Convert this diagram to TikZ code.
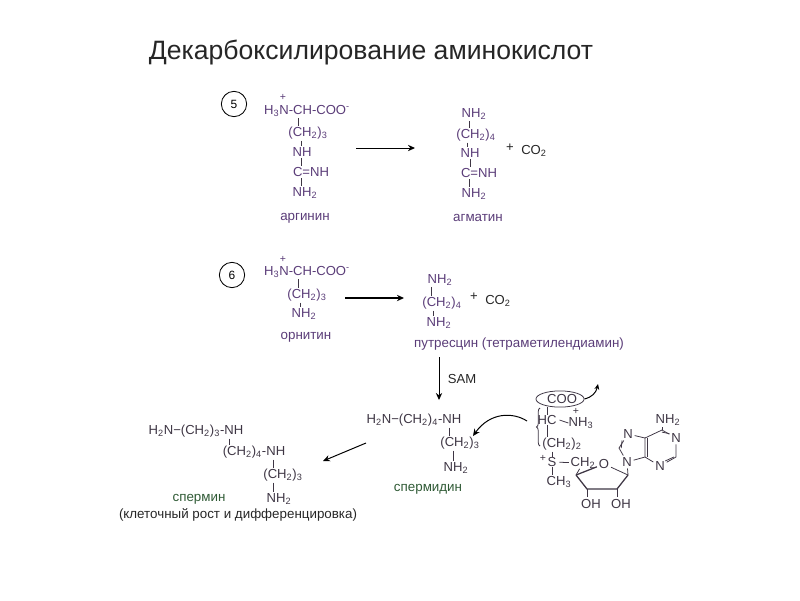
\documentclass[tikz,border=0pt]{standalone}
\usepackage{fontspec}
\setmainfont{Liberation Sans}
\usetikzlibrary{arrows.meta,shapes.geometric,decorations.pathreplacing}
\definecolor{chem}{HTML}{5A3C78}
\definecolor{chemdark}{HTML}{3E3644}
\definecolor{name}{HTML}{2F5A35}
\tikzset{
    atom/.style={inner sep=0pt,font=\fontsize{9.3}{11}\selectfont,text=chem},
    sam/.style={atom,text=chemdark},
    ring/.style={atom,text=chemdark,inner sep=1.2pt},
    plain/.style={atom,text=black!85},
    charge/.style={atom,font=\fontsize{7.5}{8}\selectfont},
    label/.style={atom,font=\fontsize{9.5}{11}\selectfont},
    numbered/.style={draw,circle,line width=0.6pt,minimum size=18pt,inner sep=0pt,font=\fontsize{8.5}{10}\selectfont},
    bond/.style={draw=chemdark,line width=0.55pt},
    react/.style={-{Stealth[length=5pt,width=4.5pt]},line width=0.7pt}
}
\newcommand{\tick}[3]{\draw[bond,shorten <=0.8pt,shorten >=0.8pt] ([xshift=#3]#1.south) -- ([xshift=#3]#1.south |- #2.north);}
\begin{document}
\begin{tikzpicture}[x=0.025cm,y=-0.025cm]
\useasboundingbox (0,0) rectangle (800,600);
\node[font=\fontsize{18.9}{22}\selectfont,text=black!85] (title) at (371,53) {Декарбоксилирование аминокислот};

% arginine -> agmatine
\node[numbered] (five) at (234,104) {5};
\node[atom] (arg1) at (307,111) {H\textsubscript{3}N-CH-COO\textsuperscript{-}};
\node[charge] (argplus) at (283,97) {+};
\node[atom] (arg2) at (308,133) {(CH\textsubscript{2})\textsubscript{3}};
\node[atom] (arg3) at (302,152) {NH};
\node[atom] (arg4) at (311,172) {C=NH};
\node[atom] (arg5) at (305,193) {NH\textsubscript{2}};
\node[label,text=chem] (argname) at (305,218) {аргинин};
\tick{arg1}{arg2}{-6pt}
\tick{arg2}{arg3}{-4.5pt}
\tick{arg3}{arg4}{-0.5pt}
\tick{arg4}{arg5}{-7pt}
\coordinate (argout) at (356,148);
\coordinate (agmin) at (415,148);
\draw[react] (argout) -- (agmin);
\node[atom] (agm1) at (474,114) {NH\textsubscript{2}};
\node[atom] (agm2) at (476,135) {(CH\textsubscript{2})\textsubscript{4}};
\node[atom] (agm3) at (470,153) {NH};
\node[atom] (agm4) at (479,173) {C=NH};
\node[atom] (agm5) at (474,194) {NH\textsubscript{2}};
\node[label,text=chem] (agmname) at (478,218) {агматин};
\node[plain] (agmplus) at (510,148) {+};
\node[plain] (agmco) at (534,151) {CO\textsubscript{2}};
\tick{agm1}{agm2}{-3pt}
\tick{agm2}{agm3}{-6pt}
\tick{agm3}{agm4}{0pt}
\tick{agm4}{agm5}{-7pt}

% ornithine -> putrescine
\node[numbered] (six) at (232,275) {6};
\node[atom] (orn1) at (307,272) {H\textsubscript{3}N-CH-COO\textsuperscript{-}};
\node[charge] (ornplus) at (283,259) {+};
\node[atom] (orn2) at (307,295) {(CH\textsubscript{2})\textsubscript{3}};
\node[atom] (orn3) at (304,314) {NH\textsubscript{2}};
\node[label,text=chem] (ornname) at (306,337) {орнитин};
\tick{orn1}{orn2}{-6pt}
\tick{orn2}{orn3}{-5pt}
\coordinate (ornout) at (345,298);
\coordinate (putin) at (404,298);
\draw[react,line width=1.1pt] (ornout) -- (putin);
\node[atom] (put1) at (440,280) {NH\textsubscript{2}};
\node[atom] (put2) at (442,303) {(CH\textsubscript{2})\textsubscript{4}};
\node[atom] (put3) at (439,323) {NH\textsubscript{2}};
\node[plain] (putplus) at (474,297) {+};
\node[plain] (putco) at (498,301) {CO\textsubscript{2}};
\node[label,text=chem] (putname) at (519,344) {путресцин (тетраметилендиамин)};
\tick{put1}{put2}{-6pt}
\tick{put2}{put3}{-6pt}
\coordinate (putout) at (439,357);
\coordinate (spdin) at (439,400);
\draw[react] (putout) -- (spdin);
\node[plain] (samname) at (462,379) {SAM};

% spermidine
\node[atom,text=chemdark] (spd1) at (414,420) {H\textsubscript{2}N−(CH\textsubscript{2})\textsubscript{4}-NH};
\node[atom,text=chemdark] (spd2) at (460,443) {(CH\textsubscript{2})\textsubscript{3}};
\node[atom,text=chemdark] (spd3) at (456,468) {NH\textsubscript{2}};
\node[label,text=name] (spdname) at (428,489) {спермидин};
\tick{spd1}{spd2}{25pt}
\tick{spd2}{spd3}{-5pt}
\coordinate (samout) at (527,421);
\coordinate (spdarm) at (473,436);
\draw[react,draw=black] (samout) .. controls (513,412) and (490,412) .. (spdarm);

% spermine
\node[atom,text=chemdark] (spm1) at (196,431) {H\textsubscript{2}N−(CH\textsubscript{2})\textsubscript{3}-NH};
\node[atom,text=chemdark] (spm2) at (254,452) {(CH\textsubscript{2})\textsubscript{4}-NH};
\node[atom,text=chemdark] (spm3) at (283,475) {(CH\textsubscript{2})\textsubscript{3}};
\node[atom,text=chemdark] (spm4) at (279,499) {NH\textsubscript{2}};
\node[label,text=name] (spmname) at (199,499) {спермин};
\node[label,text=black!85] (spmrole) at (238,515) {(клеточный рост и дифференцировка)};
\tick{spm1}{spm2}{24pt}
\tick{spm2}{spm3}{14pt}
\tick{spm3}{spm4}{-7pt}
\coordinate (spdout) at (366,443);
\coordinate (spmin) at (323,461);
\draw[react] (spdout) -- (spmin);

% S-adenosylmethionine
\node[draw=chemdark,ellipse,line width=0.55pt,inner sep=0pt,minimum width=30pt,minimum height=11.5pt,sam] (coo) at (560,399) {\hspace{3pt}COO};
\node[sam] (hc) at (547,420) {HC};
\node[sam] (nh) at (581,423) {NH\textsubscript{3}};
\node[charge,text=chemdark] (nhplus) at (576,411) {+};
\node[sam] (chb) at (562,444) {(CH\textsubscript{2})\textsubscript{2}};
\node[sam] (sulf) at (552,462) {S};
\node[charge,text=chemdark] (splus) at (543,458) {+};
\node[sam] (cht) at (583,463) {CH\textsubscript{2}};
\node[sam] (chm) at (559,482) {CH\textsubscript{3}};
\draw[bond] (coo.south -| hc) -- (hc);
\draw[bond] (hc.east) ++(2pt,0) -- (nh.west);
\draw[bond,shorten >=0.8pt] (hc.south) -- (hc.south |- chb.north);
\draw[bond,shorten <=0.8pt] (sulf |- chb.south) -- (sulf);
\draw[bond,shorten >=0.8pt] (sulf) -- (sulf |- chm.north);
\draw[bond,shorten <=2pt,shorten >=1pt] (sulf) -- (cht);
\coordinate (brtop) at (540,408);
\coordinate (brbot) at (540,446);
\draw[bond,decorate,decoration={brace,amplitude=2.5pt}] (brbot) -- (brtop);
\coordinate (cooout) at (598,384);
\draw[react,draw=black,-{Stealth[length=4pt,width=3.5pt]}] (coo.east) .. controls (592,397) and (596,393) .. (cooout);

% ribose
\node[ring] (rO) at (604,464) {O};
\node[ring] (rOH1) at (591,504) {OH};
\node[ring] (rOH2) at (621,504) {OH};
\coordinate (r1) at (628,475);
\coordinate (r2) at (617,489);
\coordinate (r3) at (587,489);
\coordinate (r4) at (576,475);
\draw[bond] (rO) -- (r1);
\draw[bond,line width=0.9pt] (r1) -- (r2) -- (r3) -- (r4);
\draw[bond,line width=0.9pt] (r4) -- (rO);
\draw[bond] (r4) -- (cht);
\draw[bond] (r3) -- (r3 |- rOH1.north);
\draw[bond] (r2) -- (r2 |- rOH2.north);

% adenine
\node[ring] (n9) at (627,462) {N};
\node[ring] (n7) at (628,434) {N};
\node[ring] (n1) at (676,438) {N};
\node[ring] (n3) at (660,466) {N};
\node[ring] (nha) at (668,420) {NH\textsubscript{2}};
\coordinate (c8) at (619,448);
\coordinate (c4) at (645,457);
\coordinate (c5) at (645,438);
\coordinate (c6) at (662,430);
\coordinate (c2) at (676,457);
\draw[bond] (r1) -- (n9);
\draw[bond] (n9) -- (c8) -- (n7);
\draw[bond] ([xshift=1.6pt]c8) -- ([xshift=0.5pt]n7.south west);
\draw[bond] (n7) -- (c5) -- (c4) -- (n9);
\draw[bond] ([xshift=1.6pt]c5) -- ([xshift=1.6pt]c4);
\draw[bond] (c5) -- (c6) -- (n1);
\draw[bond] ([yshift=-1.5pt]c6) -- ([yshift=-1.5pt]n1.north west);
\draw[bond] (n1) -- (c2) -- (n3);
\draw[bond] ([xshift=-1.5pt]c2) -- ([xshift=-1pt,yshift=-1pt]n3.north east);
\draw[bond] (n3) -- (c4);
\draw[bond] (c6) -- (c6 |- nha.south);
\end{tikzpicture}
\end{document}
